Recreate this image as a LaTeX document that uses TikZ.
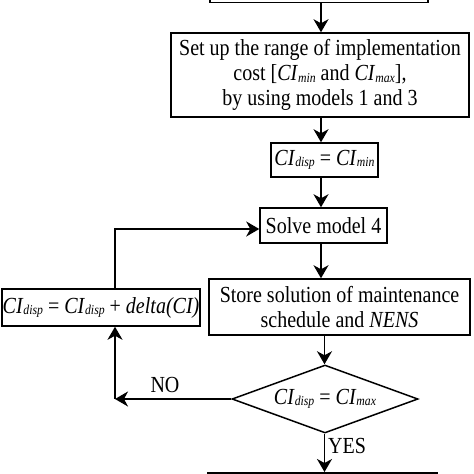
\documentclass[tikz,border=0pt]{standalone}
\usepackage{fontspec}
\setmainfont{Liberation Serif}[FakeStretch=0.87]
\usetikzlibrary{shapes.geometric,arrows.meta}
\newcommand\cisub[1]{\textit{CI}\raisebox{-1.5pt}{\fontsize{13.5}{13.5}\selectfont\textit{#1}}}
\begin{document}
\begin{tikzpicture}[x=1pt,y=-1pt,
  box/.style={draw,line width=1.5pt,inner sep=0pt,align=center,font=\fontsize{23}{25}\selectfont},
  arr/.style={line width=1.5pt,-{Stealth[length=13pt,width=15pt,inset=4pt]}},
  lbl/.style={font=\fontsize{23}{24}\selectfont,inner sep=0pt}]
\useasboundingbox (0,0) rectangle (474,474);
\node[box,minimum width=218pt,minimum height=30pt,anchor=south] (topbox) at (319,3) {};
\node[box,minimum width=298pt,minimum height=84pt] (setup) at (320,75)
  {Set up the range of implementation\\cost [\cisub{min} and \cisub{max}],\\by using models 1 and 3};
\node[box,minimum width=107pt,minimum height=34pt] (cimin) at (324.5,160) {\cisub{disp} = \cisub{min}};
\node[box,minimum width=127pt,minimum height=35pt] (solve) at (323.5,225.5) {Solve model 4};
\node[box,minimum width=261pt,minimum height=56pt] (store) at (339.5,307)
  {Store solution of maintenance\\schedule and \textit{NENS}};
\node[box,minimum width=198pt,minimum height=37pt] (upd) at (101,307.5)
  {\cisub{disp} = \cisub{disp} + \textit{delta(CI)}};
\node[box,diamond,aspect=2.735,minimum width=186pt,minimum height=68pt] (dec) at (325,399)
  {\cisub{disp} = \cisub{max}};
\node[box,minimum width=229pt,minimum height=30pt,anchor=north] (botbox) at (322.5,472) {};
\coordinate (sa) at (321,0);
\coordinate (sb) at (324.5,0);
\coordinate (fb) at (115,229);
\coordinate (cno) at (115,399);
\draw[arr] (topbox.south -| sa) -- (setup.north -| sa);
\draw[arr] (setup.south -| sa) -- (cimin.north -| sa);
\draw[arr] (cimin.south -| sa) -- (solve.north -| sa);
\draw[arr] (solve.south -| sa) -- (store.north -| sa);
\draw[arr] (store.south -| sb) -- (dec.north -| sb);
\draw[arr] (dec.south -| sb) -- (botbox.north -| sb);
\draw[arr] (upd.north -| fb) -- (fb) -- (fb -| solve.west);
\draw[arr] (dec.west) -- (cno);
\draw[arr] (cno) -- (cno |- upd.south);
\node[lbl] (no) at (165,385) {NO};
\node[lbl,anchor=west] (yes) at (328,446) {YES};
\end{tikzpicture}
\end{document}
